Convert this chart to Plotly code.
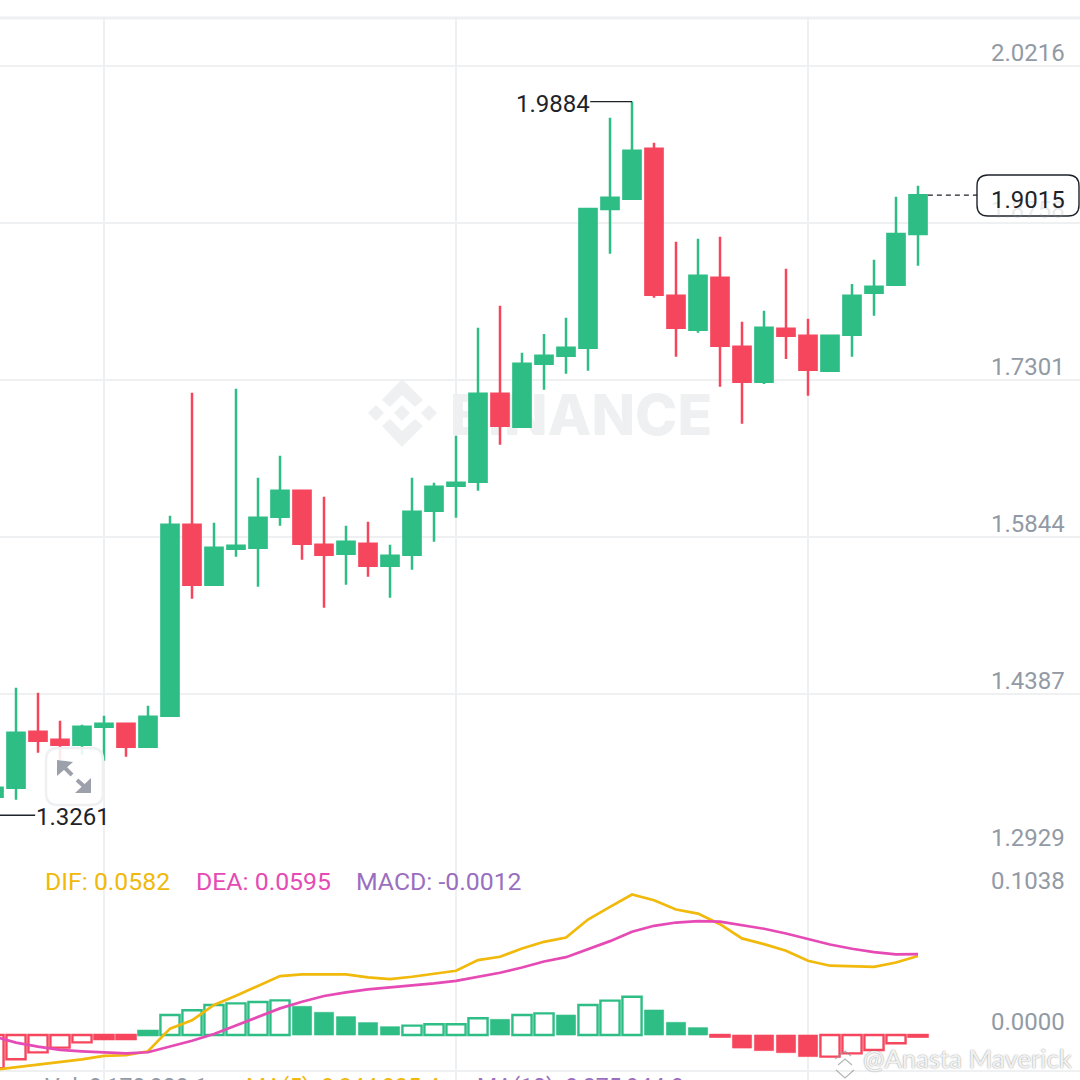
import plotly.graph_objects as go

# ---------- data ----------
candle_index = list(range(-1, 42))
opens = [1.3432,1.3515,1.4035,1.3961,1.3914,1.4081,1.4109,1.3896,1.4184,1.5956,1.5399,1.5733,1.5743,1.6030,1.6272,1.5770,1.5687,1.5780,1.5576,1.5678,1.6086,1.6318,1.6355,1.7172,1.6865,1.7450,1.7524,1.7599,1.8888,1.8981,1.9445,1.8081,1.7766,1.8248,1.7608,1.7283,1.7775,1.7710,1.7385,1.7719,1.8109,1.8183,1.8656]
closes = [1.3515,1.4026,1.3952,1.3914,1.4081,1.4109,1.3896,1.4174,1.5956,1.5399,1.5743,1.5761,1.6021,1.6272,1.5780,1.5678,1.5798,1.5576,1.5668,1.6077,1.6309,1.6346,1.7172,1.6875,1.7450,1.7524,1.7599,1.8888,1.8991,1.9427,1.8090,1.7784,1.8267,1.7617,1.7283,1.7784,1.7710,1.7394,1.7710,1.8081,1.8165,1.8656,1.9015]
highs = [1.3530,1.4443,1.4397,1.4137,1.4100,1.4184,1.4119,1.4276,1.6040,1.7181,1.5975,1.7218,1.6392,1.6596,1.6281,1.6216,1.5947,1.5984,1.5770,1.6392,1.6346,1.6782,1.7784,1.7988,1.7552,1.7728,1.7877,1.8898,1.9733,1.9884,1.9501,1.8582,1.8610,1.8629,1.7840,1.7942,1.8332,1.7868,1.7719,1.8192,1.8415,1.9000,1.9102]
lows = [1.3423,1.3404,1.3840,1.3775,1.3822,1.3766,1.3803,1.3887,1.4174,1.5269,1.5390,1.5659,1.5381,1.5947,1.5631,1.5186,1.5399,1.5473,1.5279,1.5538,1.5798,1.6021,1.6272,1.6698,1.6856,1.7209,1.7357,1.7385,1.8471,1.8972,1.8063,1.7515,1.7738,1.7237,1.6893,1.7264,1.7496,1.7153,1.7376,1.7515,1.7896,1.8174,1.8360]

macd = [-.0245,-.0179,-.0128,-.0093,-.0054,-.0029,-.0029,.0029,.0147,.0182,.0221,.0233,.0243,.0255,.0211,.0167,.0135,.0091,.0061,.0069,.0079,.0079,.0123,.0115,.0147,.0159,.0147,.0221,.0253,.0282,.0184,.0093,.0054,-.0012,-.0096,-.0115,-.0130,-.0159,-.0159,-.0135,-.0110,-.0061,-.0012]
macd_hollow = [1,1,1,1,1,0,0,0,1,1,1,1,1,1,0,0,0,0,0,1,1,1,1,0,1,1,0,1,1,1,0,0,0,0,0,0,0,0,1,1,1,1,0]
dif = [-.0257,-.0238,-.0221,-.0203,-.0179,-.0154,-.0149,-.0120,.0047,.0108,.0221,.0289,.0360,.0434,.0446,.0446,.0446,.0424,.0412,.0429,.0453,.0473,.0551,.0576,.0637,.0686,.0718,.0850,.0943,.1034,.0992,.0924,.0894,.0816,.0711,.0669,.0620,.0546,.0510,.0505,.0502,.0534,.0582]
dea = [-.0010,-.0056,-.0086,-.0110,-.0120,-.0130,-.0135,-.0127,-.0086,-.0042,.0007,.0069,.0135,.0196,.0245,.0287,.0314,.0336,.0350,.0363,.0380,.0399,.0429,.0458,.0497,.0541,.0573,.0630,.0691,.0760,.0804,.0828,.0838,.0835,.0809,.0782,.0747,.0708,.0666,.0635,.0610,.0593,.0595]

price_ticks = [2.0216, 1.8758, 1.7301, 1.5844, 1.4387, 1.2929]
macd_ticks = [0.1038, 0.0]
time_grid = [4, 20, 36]
high_mark = 1.9884
low_mark = 1.3261
last_price = 1.9015

# ---------- styles ----------
GREEN, RED = "#2EBD85", "#F6465D"
GRID, GREY, DARK = "#EEF0F2", "#929AA5", "#1E2329"
YEL, PINK, PURP = "#F0B90B", "#E54AB5", "#9A6FC0"
FONT = "Roboto"
FS = 24
W = H = 1080

def px(x, y):
    return x / W, 1 - y / H

def path(pts, close=True):
    s = "M " + " L ".join(f"{px(*p)[0]:.5f},{px(*p)[1]:.5f}" for p in pts)
    return s + (" Z" if close else "")

def rrect(x0, y0, x1, y1, r):
    a, b = px(x0, y0), px(x1, y1)
    rx, ry = r / W, r / H
    return (f"M {a[0]+rx},{a[1]} L {b[0]-rx},{a[1]} Q {b[0]},{a[1]} {b[0]},{a[1]-ry} "
            f"L {b[0]},{b[1]+ry} Q {b[0]},{b[1]} {b[0]-rx},{b[1]} L {a[0]+rx},{b[1]} "
            f"Q {a[0]},{b[1]} {a[0]},{b[1]+ry} L {a[0]},{a[1]-ry} Q {a[0]},{a[1]} {a[0]+rx},{a[1]} Z")

fig = go.Figure()
fig.add_trace(go.Candlestick(
    x=candle_index, open=opens, high=highs, low=lows, close=closes,
    increasing=dict(line=dict(color=GREEN, width=2.5), fillcolor=GREEN),
    decreasing=dict(line=dict(color=RED, width=2.5), fillcolor=RED),
    whiskerwidth=0, xaxis="x", yaxis="y", showlegend=False, hoverinfo="skip"))

bar_base = [GREEN if v > 0 else RED for v in macd]
bar_line = [2.4 if (h or abs(v) < 0.003) else 0.6 for h, v in zip(macd_hollow, macd)]
fig.add_trace(go.Bar(
    x=candle_index, y=macd, xaxis="x", yaxis="y2", width=0.87, showlegend=False, hoverinfo="skip",
    marker=dict(color=["#FFFFFF" if h else c for h, c in zip(macd_hollow, bar_base)],
                line=dict(color=bar_base, width=bar_line))))
fig.add_trace(go.Scatter(x=candle_index, y=dif, mode="lines", line=dict(color=YEL, width=2.7),
                         xaxis="x", yaxis="y2", showlegend=False, hoverinfo="skip"))
fig.add_trace(go.Scatter(x=candle_index, y=dea, mode="lines", line=dict(color=PINK, width=2.7),
                         xaxis="x", yaxis="y2", showlegend=False, hoverinfo="skip"))
# leader lines for the high / low / last price marks
fig.add_trace(go.Scatter(x=[26.1, 28], y=[high_mark, high_mark], mode="lines",
                         line=dict(color=DARK, width=1.3), showlegend=False, hoverinfo="skip"))
fig.add_trace(go.Scatter(x=[-1.5, 0.87], y=[low_mark, low_mark], mode="lines",
                         line=dict(color=DARK, width=1.3), showlegend=False, hoverinfo="skip"))
fig.add_trace(go.Scatter(x=[41.45, 43.7], y=[last_price, last_price], mode="lines",
                         line=dict(color=DARK, width=1.2, dash="5px,4px"), showlegend=False, hoverinfo="skip"))

annotations = []
def text(s, x, y, color, size=FS, anchor="left", yanchor="middle", xref="paper", yref="paper", yshift=0, **kw):
    annotations.append(dict(text=s, x=x, y=y, xref=xref, yref=yref, showarrow=False,
                            xanchor=anchor, yanchor=yanchor, yshift=yshift, borderpad=0,
                            font=dict(family=kw.pop("family", FONT), size=size, color=color, **kw.pop("fontkw", {})), **kw))

for v in price_ticks:
    col = "rgba(146,154,165,0.22)" if abs(v - 1.8758) < 1e-6 else GREY
    text(f"{v:.4f}", 1065.5 / W, v, col, anchor="right", yref="y", yshift=13)
for v in macd_ticks:
    text(f"{v:.4f}", 1065.5 / W, v, GREY, anchor="right", yref="y2", yshift=13)

text(f"{high_mark:.4f}", 26.15, high_mark, DARK, anchor="right", xref="x", yref="y", yshift=-2)
text(f"{low_mark:.4f}", 0.85, low_mark, DARK, xref="x", yref="y", yshift=-2)
text(f"{last_price:.4f}", 1028 / W, last_price, DARK, anchor="center", yref="y", yshift=-5)

ly = px(0, 881)[1]
text(f"DIF: {dif[-1]:.4f}", 44 / W, ly, YEL, size=24.8)
text(f"DEA: {dea[-1]:.4f}", 195 / W, ly, PINK, size=24.8)
text(f"MACD: {macd[-1]:.4f}", 355 / W, ly, PURP, size=24.8)

by = px(0, 1073)[1]
text("Vol: 3,170,303.1", 44 / W, by, GREY, size=23, yanchor="top")
text("MA(5): 3,844,325.4", 245 / W, by, YEL, size=23, yanchor="top")
text("MA(10): 3,875,944.3", 476 / W, by, PURP, size=23, yanchor="top")

text("@Anasta Maverick", 862 / W, px(0, 1058)[1], "rgba(255,255,255,0.9)", size=25.7, family="Lato",
     fontkw=dict(shadow="0 0 1.5px #6f6f6f"))

shapes = []
# frame lines
shapes.append(dict(type="line", xref="paper", yref="paper", x0=0, x1=1, y0=px(0, 18)[1], y1=px(0, 18)[1],
                   line=dict(color=GRID, width=3), layer="below"))
shapes.append(dict(type="line", xref="paper", yref="paper", x0=0, x1=1, y0=px(0, 1071)[1], y1=px(0, 1071)[1],
                   line=dict(color=GRID, width=2), layer="below"))
# exchange watermark, under the candles
WM = "#EEF0F1"
logo = [
    [(402, 379), (423, 400), (415, 407), (402, 395), (390, 407), (382, 400)],
    [(402, 447), (423, 426), (415, 419), (402, 431), (390, 419), (382, 426)],
    [(402, 405), (410, 413), (402, 421), (394, 413)],
    [(376, 405), (384, 413), (376, 421), (368, 413)],
    [(429, 405), (437, 413), (429, 421), (421, 413)],
]
for p in logo:
    shapes.append(dict(type="path", xref="paper", yref="paper", path=path(p), fillcolor=WM,
                       line=dict(width=0), layer="below"))
a, b = px(450, 389), px(712, 436)
shapes.append(dict(type="rect", xref="paper", yref="paper", x0=a[0], y0=b[1], x1=b[0], y1=a[1],
                   line=dict(width=0), fillcolor="rgba(0,0,0,0)", layer="below",
                   label=dict(text="BINANCE", textposition="middle center",
                              font=dict(family="Inter", size=57, color=WM, weight=800))))
# expand button
shapes.append(dict(type="path", xref="paper", yref="paper", path=rrect(46, 748, 103, 805, 12),
                   fillcolor="rgba(255,255,255,0.88)", line=dict(color="#EEF0F2", width=2.5), layer="above"))
ICON = "#9CA0AB"
for p in [[(57, 760), (73, 762), (57, 776)], [(91, 793), (75, 793), (91, 778)]]:
    shapes.append(dict(type="path", xref="paper", yref="paper", path=path(p), fillcolor=ICON,
                       line=dict(width=0), layer="above"))
for p in [[(62, 765), (72, 775)], [(77, 780), (86, 788)]]:
    shapes.append(dict(type="path", xref="paper", yref="paper", path=path(p, False),
                       line=dict(color=ICON, width=4), layer="above"))
# last-price box
shapes.append(dict(type="path", xref="paper", yref="paper", path=rrect(977, 175, 1079, 216, 11),
                   fillcolor="rgba(255,255,255,0.86)", line=dict(color=DARK, width=1.4), layer="above"))
# small watermark chevrons
for p in [[(835, 1059), (845, 1051), (851, 1056)], [(838, 1065), (845, 1059), (852, 1065)], [(836, 1070), (845, 1078), (854, 1070)]]:
    shapes.append(dict(type="path", xref="paper", yref="paper", path=path(p, False),
                       line=dict(color="rgba(150,150,150,0.7)", width=1.2), layer="above"))

y_per_px = 0.1457 / 157
m_per_px = 0.1038 / 141
fig.update_layout(
    width=W, height=H, margin=dict(l=0, r=0, t=0, b=0), paper_bgcolor="white", plot_bgcolor="white",
    boxgap=0.22, boxgroupgap=0, bargap=0, showlegend=False, hovermode=False, dragmode=False,
    xaxis=dict(domain=[0, 1], range=[-16 / 22, (W - 16) / 22], tickvals=time_grid, showticklabels=False,
               showgrid=True, gridcolor=GRID, gridwidth=1.6, zeroline=False, showline=False,
               rangeslider=dict(visible=False), ticks="", anchor="y"),
    yaxis=dict(domain=[px(0, 851)[1], px(0, 18)[1]],
               range=[1.2929, 1.2929 + (851 - 18) * y_per_px], tickvals=price_ticks, showticklabels=False,
               showgrid=True, gridcolor=GRID, gridwidth=1.6, zeroline=False, showline=False, ticks="", anchor="x"),
    yaxis2=dict(domain=[0, px(0, 851)[1]],
                range=[-(1080 - 1035) * m_per_px, (1035 - 851) * m_per_px], showticklabels=False,
                showgrid=False, zeroline=False, showline=False, ticks="", anchor="x"),
    annotations=annotations, shapes=shapes, font=dict(family=FONT),
)

fig.write_html("out.html", config=dict(displayModeBar=False, staticPlot=True),
               post_script="document.body.style.margin='0';document.documentElement.style.overflow='hidden';")
